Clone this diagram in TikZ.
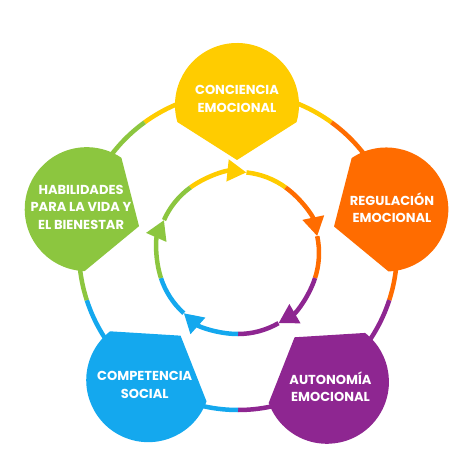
\documentclass[tikz,border=0pt]{standalone}
\usepackage{fontspec}
\setsansfont{Poppins}
\usetikzlibrary{arrows.meta}
\definecolor{cyel}{RGB}{255,204,0}
\definecolor{corg}{RGB}{255,108,0}
\definecolor{cpur}{RGB}{142,38,145}
\definecolor{cblu}{RGB}{20,168,238}
\definecolor{cgrn}{RGB}{140,198,63}

\begin{document}
\begin{tikzpicture}[x=1pt, y=1pt,
    ring/.style={line width=4.5pt},
    tip/.style={-{Triangle[length=19pt,width=21pt]}},
    blob/.style={text=white, align=center, inner sep=0pt,
      font=\sffamily\bfseries\fontsize{13}{17.5}\selectfont}]
  \useasboundingbox (-237,-216) rectangle (237,258);
  \coordinate (outer) at (1,7);
  \coordinate (inner) at (1,5);

  % rings, one colour per sector
  \foreach \a/\c in {90/cyel, 18/corg, -54/cpur, -126/cblu, 162/cgrn} {%
    \draw [ring, \c] ([shift={(\a+36:159)}]outer) arc[start angle=\a+36, end angle=\a-36, radius=159];
    \draw [ring, \c, tip] ([shift={(\a+36:81)}]inner) arc[start angle=\a+36, end angle=\a-6, radius=81];
    \draw [ring, \c] ([shift={(\a-6:81)}]inner) arc[start angle=\a-6, end angle=\a-36, radius=81];
  }

  % the five blobs
  \foreach \a/\r/\c/\n/\t in {
      90/153/cyel/conciencia/{CONCIENCIA\\EMOCIONAL},
      18/157/corg/regulacion/{REGULACIÓN\\EMOCIONAL},
      -54/153/cpur/autonomia/{AUTONOMÍA\\EMOCIONAL},
      -126/151/cblu/competencia/{COMPETENCIA\\SOCIAL},
      162/158/cgrn/habilidades/{HABILIDADES\\PARA LA VIDA Y\\EL BIENESTAR}} {%
    \fill [\c, shift={(\a:\r)}, rotate=\a-90]
      (0,-55) -- (196:62) arc[start angle=196, end angle=-16, radius=62] -- cycle;
    \pgfmathparse{\r+6}\edef\s{\pgfmathresult}
    \node [blob] (\n) at (\a:\s) {\t};
  }
\end{tikzpicture}
\end{document}
